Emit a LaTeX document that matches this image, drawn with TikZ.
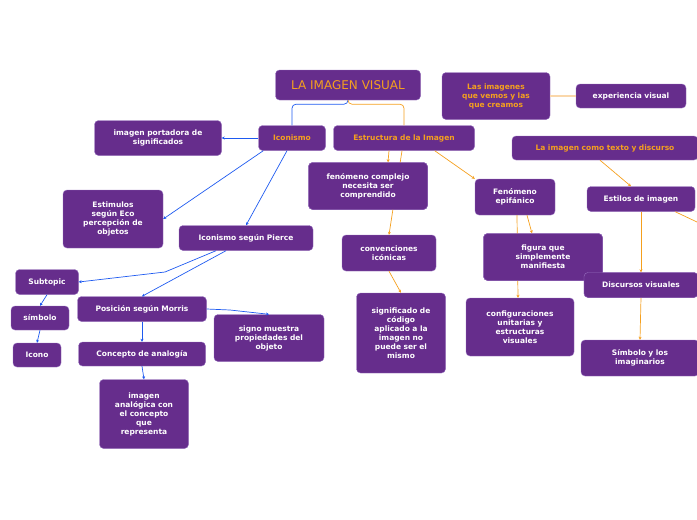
\documentclass[tikz,border=0pt]{standalone}
\usepackage{fontspec}
\setmainfont{DejaVu Sans}
\usetikzlibrary{arrows.meta}
\definecolor{purp}{RGB}{102,45,140}
\definecolor{bord}{RGB}{150,110,190}
\definecolor{org}{RGB}{245,160,30}
\definecolor{blu}{RGB}{30,90,240}
\definecolor{lorg}{RGB}{250,215,170}
\begin{document}
\begin{tikzpicture}[x=1pt,y=-1pt,
 box/.style={draw=bord,fill=purp,rounded corners=4pt,text=white,font=\bfseries\fontsize{7.5}{9}\selectfont,align=center,inner sep=1pt},
 ob/.style={box,text=org},
 ba/.style={blu,-{Stealth[length=3pt,width=3pt]},line width=0.7pt},
 oa/.style={org,-{Stealth[length=3pt,width=3pt]},line width=0.7pt}]
\useasboundingbox (0,0) rectangle (697,520);
\def\bx#1#2#3#4#5#6{\node[#1,minimum width=#4,minimum height=#5,text width=#4-8] (#2) at #3 {#6};}
\node[box,text=org,font=\fontsize{12}{14}\selectfont,minimum width=145,minimum height=30] (t) at (348,85) {LA IMAGEN VISUAL};
\bx{ob}{li}{(496,96)}{108}{47}{Las imagenes\\que vemos y las\\que creamos}
\bx{box}{ev}{(631,96)}{110}{24}{experiencia visual}
\bx{ob}{ic}{(292,138)}{67}{25}{Iconismo}
\bx{ob}{es}{(404,138)}{141}{25}{Estructura de la Imagen}
\bx{ob}{lt}{(605,148)}{186}{24}{La imagen como texto y discurso}
\bx{box}{ip}{(158,138)}{127}{35}{imagen portadora de\\significados}
\bx{box}{fc}{(368,186)}{119}{47}{fenómeno complejo\\necesita ser\\comprendido}
\bx{box}{fe}{(515,197)}{80}{36}{Fenómeno\\epifánico}
\bx{box}{ei}{(641,199)}{108}{25}{Estilos de imagen}
\bx{box}{em}{(113,219)}{100}{58}{Estimulos\\según Eco\\percepción de\\objetos}
\bx{box}{pi}{(246,238)}{134}{25}{Iconismo según Pierce}
\bx{box}{ci}{(389,253)}{94}{36}{convenciones\\icónicas}
\bx{box}{fi}{(543,257)}{119}{47}{figura que\\simplemente\\manifiesta}
\bx{box}{dv}{(641,285)}{114}{25}{Discursos visuales}
\bx{box}{su}{(47,282)}{63}{25}{Subtopic}
\bx{box}{si}{(40,318)}{58}{24}{símbolo}
\bx{box}{io}{(37,355)}{48}{24}{Icono}
\bx{box}{pm}{(142,309)}{129}{25}{Posición según Morris}
\bx{box}{sm}{(269,338)}{110}{47}{signo muestra\\propiedades del\\objeto}
\bx{box}{sc}{(401,333)}{89}{80}{significado de\\código\\aplicado a la\\imagen no\\puede ser el\\mismo}
\bx{box}{cu}{(520,327)}{108}{58}{configuraciones\\unitarias y\\estructuras\\visuales}
\bx{box}{ca}{(142,354)}{127}{24}{Concepto de analogía}
\bx{box}{ia}{(144,414)}{89}{69}{imagen\\analógica con\\el concepto\\que\\representa}
\bx{box}{sy}{(640,358)}{118}{36}{Símbolo y los\\imaginarios}
\begin{scope}[on background layer/.style={}]
\end{scope}
% connectors (drawn after; overlapping lines hidden by redrawn boxes not needed)
\draw[blu,line width=0.7pt,rounded corners=4pt] (t.south) -- ++(0,4) -| (ic.north);
\draw[org,line width=0.7pt,rounded corners=4pt] (t.south) -- ++(0,4) -| (es.north);
\draw[ba] (ic.west) -- (ip.east);
\draw[ba] (ic.south west) ++(5,0) -- (em.east);
\draw[ba] (ic.south) ++(-5,0) -- (pi.north);
\draw[ba] (pi.south) ++(-30,0) -- (165,272) -- (su.east);
\draw[ba] (pi.south) ++(-20,0) -- (pm.north);
\draw[ba] (pm.east) -- (230,310) -- (sm.north);
\draw[ba] (pm.south) -- (ca.north);
\draw[ba] (ca.south) -- (ia.north);
\draw[ba] (su.south) -- (si.north);
\draw[ba] (si.south) -- (io.north);
\draw[oa] (es.south) ++(-15,0) -- (fc.north -| 388,0);
\draw[oa] (es.south) ++(-2,0) -- (ci.north);
\draw[oa] (ci.south) -- (sc.north);
\draw[oa] (es.south east) ++(-40,0) -- (fe.north west);
\draw[oa] (fe.south) ++(12,0) -- (fi.north -| 532,0);
\draw[oa] (fe.south) ++(2,0) -- (cu.north -| 518,0);
\draw[lorg,line width=1.2pt] (li.east) -- (ev.west);
\draw[oa] (lt.south) ++(-5,0) -- (ei.north -| 631,0);
\draw[oa] (ei.south) -- (dv.north);
\draw[oa] (dv.south) -- (sy.north);
\draw[org,line width=0.7pt] (ei.south east) ++(-20,0) -- (697,222);
\draw[green!70!black,line width=0.7pt] (lt.east) ++(0,10) -- (697,160);
% redraw boxes that lines pass behind
\bx{box}{fc2}{(368,186)}{119}{47}{fenómeno complejo\\necesita ser\\comprendido}
\bx{box}{fi2}{(543,257)}{119}{47}{figura que\\simplemente\\manifiesta}
\bx{box}{dv2}{(641,285)}{114}{25}{Discursos visuales}
\end{tikzpicture}
\end{document}
